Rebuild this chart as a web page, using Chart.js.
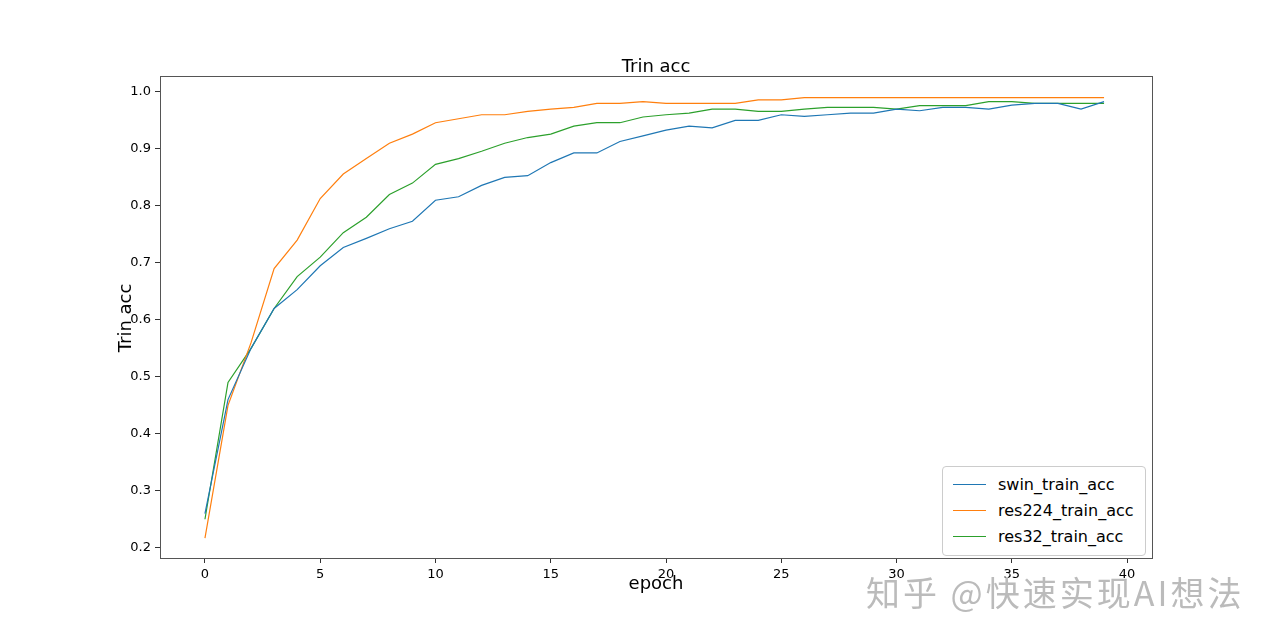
<!DOCTYPE html>
<html><head><meta charset="utf-8">
<script src="https://cdn.jsdelivr.net/npm/chart.js@4"></script>
<style>body{margin:0;background:#fff;font-family:"DejaVu Sans",sans-serif}
#wrap{position:relative;width:1280px;height:640px}
#leg{position:absolute;left:942px;top:466px;width:202px;height:84px;border:1px solid #ccc;border-radius:4px;background:#fff;font-size:16px;padding-top:4px;font-family:"DejaVu Sans"}
#leg div{height:26px;display:flex;align-items:center}
#leg span{display:inline-block;width:33px;height:0;border-top:1.3px solid;margin:0 12px 0 10px}
#wm{position:absolute;left:866px;top:567px;font-family:"Noto Sans CJK SC";font-size:34px;color:#bbb;letter-spacing:3px;white-space:pre}
</style></head><body>
<div id="wrap"><canvas id="c" width="1280" height="640"></canvas>
<div id="leg"></div><div id="wm">知乎 @快速实现AI想法</div></div>
<script>
const epochs=[...Array(40).keys()];
const swin=[0.26,0.46,0.55,0.62,0.653,0.695,0.727,0.743,0.76,0.773,0.81,0.816,0.836,0.85,0.853,0.876,0.893,0.893,0.913,0.923,0.933,0.94,0.937,0.95,0.95,0.96,0.957,0.96,0.963,0.963,0.97,0.967,0.973,0.973,0.97,0.977,0.98,0.98,0.97,0.983];
const res224=[0.217,0.45,0.56,0.69,0.74,0.813,0.856,0.883,0.91,0.926,0.946,0.953,0.96,0.96,0.966,0.97,0.973,0.98,0.98,0.983,0.98,0.98,0.98,0.98,0.986,0.986,0.99,0.99,0.99,0.99,0.99,0.99,0.99,0.99,0.99,0.99,0.99,0.99,0.99,0.99];
const res32=[0.25,0.49,0.55,0.62,0.676,0.71,0.753,0.78,0.82,0.84,0.873,0.883,0.896,0.91,0.92,0.926,0.94,0.946,0.946,0.956,0.96,0.963,0.97,0.97,0.966,0.966,0.97,0.973,0.973,0.973,0.97,0.976,0.976,0.976,0.983,0.983,0.98,0.98,0.98,0.98];
const xTicks=[0,5,10,15,20,25,30,35,40];
const yTicks=[0.2,0.3,0.4,0.5,0.6,0.7,0.8,0.9,1.0];
const names=['swin_train_acc','res224_train_acc','res32_train_acc'];
const colors=['#1f77b4','#ff7f0e','#2ca02c'];
const series=[swin,res224,res32];
document.getElementById('leg').innerHTML=names.map((n,i)=>`<div><span style="border-color:${colors[i]}"></span>${n}</div>`).join('');
const deco={id:'deco',afterDraw(ch){const a=ch.chartArea,c=ch.ctx;c.save();c.strokeStyle='#555';c.lineWidth=1;c.strokeRect(a.left+0.5,a.top+0.5,a.right-a.left,a.bottom-a.top);
c.fillStyle='#000';c.textAlign='center';c.textBaseline='middle';c.font='18px "DejaVu Sans"';c.fillText('Trin acc',656,67);c.fillText('epoch',656,584);
c.translate(126,318);c.rotate(-Math.PI/2);c.fillText('Trin acc',0,0);c.restore();}};
new Chart(document.getElementById('c'),{type:'line',
data:{datasets:series.map((s,i)=>({label:names[i],data:s.map((v,j)=>({x:epochs[j],y:v})),borderColor:colors[i],borderWidth:1.2,pointRadius:0,tension:0}))},
options:{responsive:false,animation:false,layout:{padding:{top:76,right:128,left:0,bottom:0}},
plugins:{legend:{display:false},tooltip:{enabled:false}},
scales:{x:{type:'linear',min:-1.95,max:41.08,afterBuildTicks(s){s.ticks=xTicks.map(v=>({value:v}))},afterFit(s){s.height=82},
ticks:{color:'#000',font:{size:13,family:'DejaVu Sans'},padding:4},grid:{drawOnChartArea:false,drawTicks:true,tickLength:5,color:'#333'},border:{display:false}},
y:{min:0.182,max:1.028,afterBuildTicks(s){s.ticks=yTicks.map(v=>({value:v}))},afterFit(s){s.width=160},
ticks:{color:'#000',font:{size:13,family:'DejaVu Sans'},padding:4,callback:v=>v.toFixed(1)},grid:{drawOnChartArea:false,drawTicks:true,tickLength:5,color:'#333'},border:{display:false}}}},
plugins:[deco]});
</script></body></html>
